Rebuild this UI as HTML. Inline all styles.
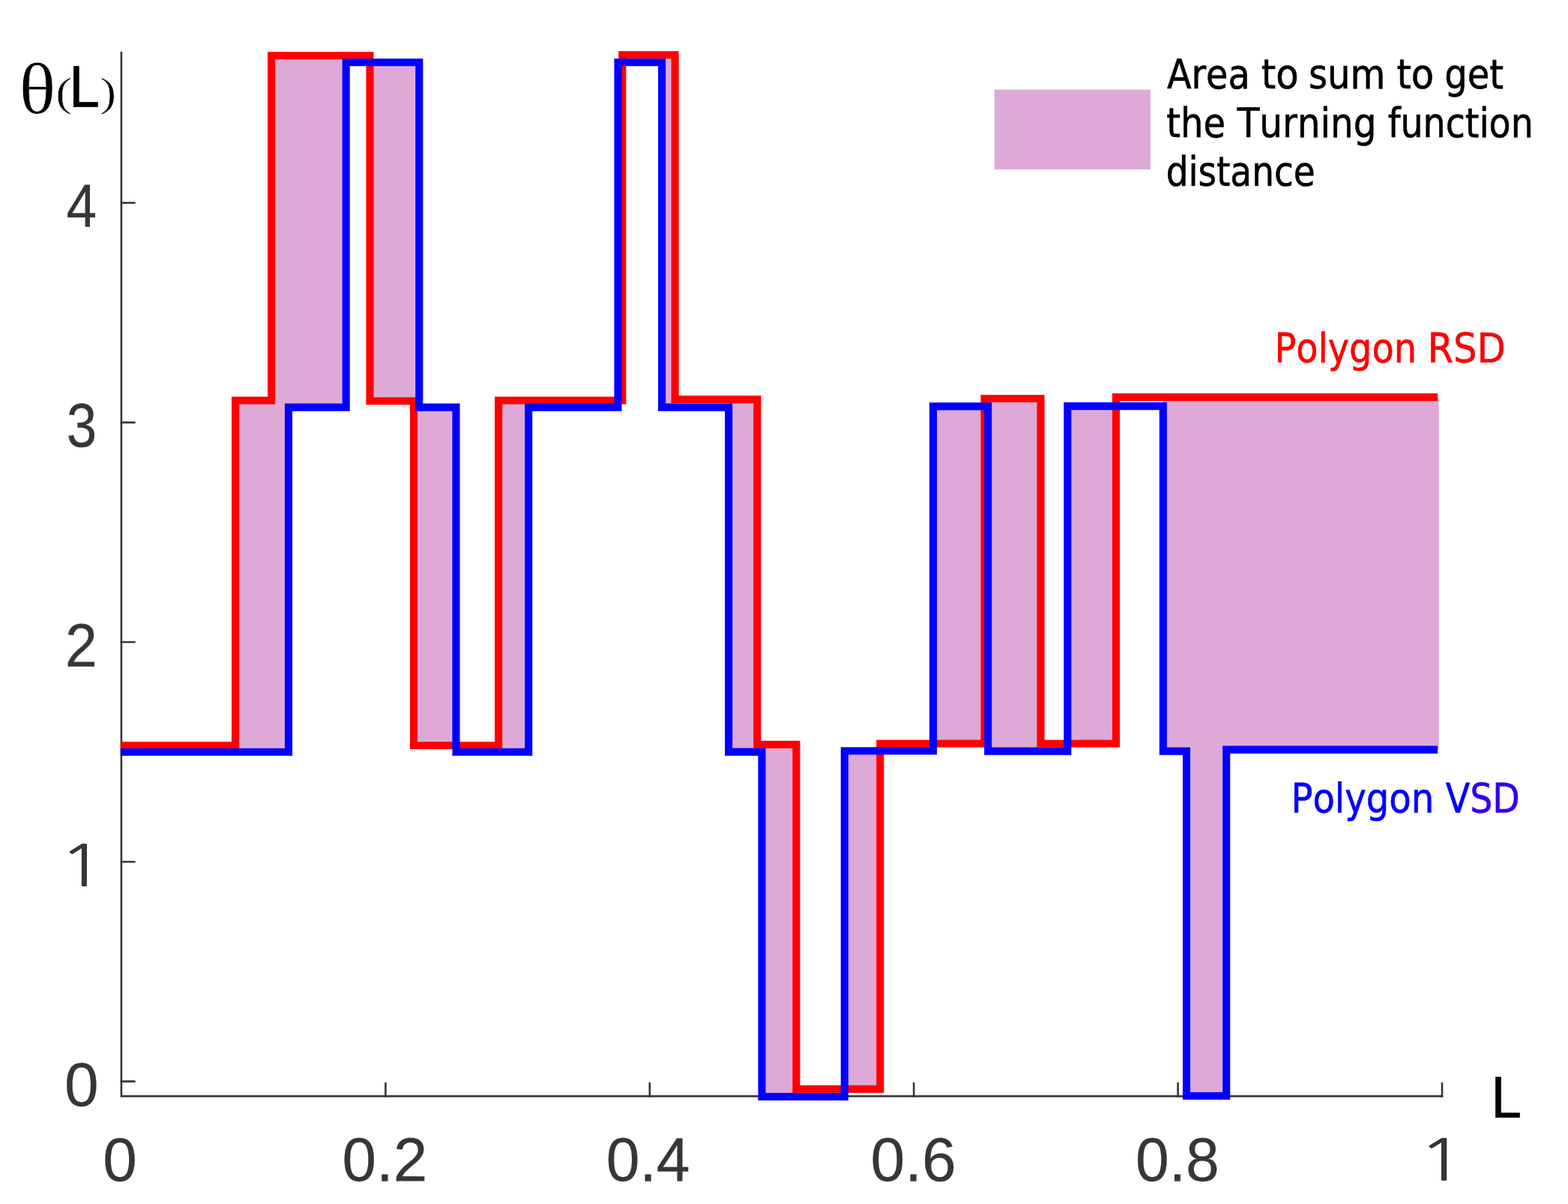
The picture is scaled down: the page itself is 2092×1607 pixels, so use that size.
<!DOCTYPE html>
<html lang="en">
<head>
<meta charset="utf-8">
<title>Turning function distance between polygon RSD and polygon VSD</title>
<style>
html,body{margin:0;padding:0;background:#ffffff;}
body{width:2092px;height:1607px;overflow:hidden;}
svg{display:block;}
text{white-space:pre;stroke-linejoin:miter;}
</style>
</head>
<body>
<svg width="2092" height="1607" viewBox="0 0 2092 1607" role="img">
<rect width="2092" height="1607" fill="#ffffff"/>
<g id="axes">
<path d="M161.9,68.7V1463.1H1925.3" fill="none" stroke="#363636" stroke-width="2.6" stroke-linejoin="miter"/>
<path d="M160.6,1443.40H180.6M160.6,1150.22H180.6M160.6,857.04H180.6M160.6,563.86H180.6M160.6,270.68H180.6M514.40,1464.4V1444.8M866.80,1464.4V1444.8M1219.20,1464.4V1444.8M1571.60,1464.4V1444.8M1924.00,1464.4V1444.8" fill="none" stroke="#363636" stroke-width="2.6"/>
</g>
<g id="area" fill="#dea9d7">
<path d="M314,534.5H362.1V1003.7H314ZM362.1,74.3H385V1003.7H362.1ZM385,74.3H461.7V543.6H385ZM493.5,83.2H552V535.2H493.5ZM552,83.2H559.3V995H552ZM559.3,543.6H608.5V995H559.3ZM665.1,534.5H705.2V1003.7H665.1ZM824.5,83.2H830.3V534.5H824.5ZM883.1,73.2H900.6V543.6H883.1ZM972.2,533.1H1010.3V1003.6H972.2ZM1016.5,993.7H1062.4V1463.8H1016.5ZM1126.8,1002.3H1174.3V1453.6H1126.8ZM1245,542.4H1313.5V992.5H1245ZM1318.2,532H1388.5V1002.6H1318.2ZM1424.3,542.1H1489V992.5H1424.3ZM1551.8,530.1H1583V1002.6H1551.8ZM1583,530.1H1636.2V1462.8H1583ZM1636.2,530.1H1919.6V1000.6H1636.2Z"/>
<rect x="1326.8" y="119.7" width="208.1" height="106.5"/>
</g>
<g id="curves" fill="none" stroke-width="10.1" stroke-linejoin="miter" stroke-linecap="butt">
<path id="curve-rsd" d="M160.8,995 L314,995 L314,534.5 L362.1,534.5 L362.1,74.3 L493.5,74.3 L493.5,535.2 L552,535.2 L552,995 L665.1,995 L665.1,534.5 L830.3,534.5 L830.3,73.2 L900.6,73.2 L900.6,533.1 L1010.3,533.1 L1010.3,993.7 L1062.4,993.7 L1062.4,1453.6 L1174.3,1453.6 L1174.3,992.5 L1313.5,992.5 L1313.5,532 L1388.5,532 L1388.5,992.5 L1489,992.5 L1489,530.1 L1918,530.1" stroke="#ff0000"/>
<path id="curve-vsd" d="M160.8,1003.7 L385,1003.7 L385,543.6 L461.7,543.6 L461.7,83.2 L559.3,83.2 L559.3,543.6 L608.5,543.6 L608.5,1003.7 L705.2,1003.7 L705.2,543.6 L824.5,543.6 L824.5,83.2 L883.1,83.2 L883.1,543.6 L972.2,543.6 L972.2,1003.6 L1016.5,1003.6 L1016.5,1463.8 L1126.8,1463.8 L1126.8,1002.3 L1245,1002.3 L1245,542.4 L1318.2,542.4 L1318.2,1002.6 L1424.3,1002.6 L1424.3,542.1 L1551.8,542.1 L1551.8,1002.6 L1583,1002.6 L1583,1462.8 L1636.2,1462.8 L1636.2,1000.6 L1918.1,1000.6" stroke="#0000ff"/>
</g>
<g id="labels">
<g id="y-title">
<text id="ytitle" transform="rotate(0.04 25.35 151.20)"><tspan x="25.35" y="151.20" textLength="49.13" lengthAdjust="spacingAndGlyphs" font-family="'Liberation Serif', serif" font-size="97.37" fill="#000000" stroke="#ffffff" stroke-width="0.7">θ</tspan><tspan x="74.14" y="141.37" textLength="21.80" lengthAdjust="spacingAndGlyphs" font-family="'Liberation Serif', serif" font-size="54.79" fill="#000000" stroke="#ffffff" stroke-width="0.5">(</tspan><tspan x="91.24" y="142.70" textLength="39.53" lengthAdjust="spacingAndGlyphs" font-family="'DejaVu Sans Condensed', 'DejaVu Sans', 'Liberation Sans', sans-serif" font-size="74.28" fill="#000000" stroke="#000000" stroke-width="0.6">L</tspan><tspan x="133.59" y="141.32" textLength="21.61" lengthAdjust="spacingAndGlyphs" font-family="'Liberation Serif', serif" font-size="54.84" fill="#000000" stroke="#ffffff" stroke-width="0.5">)</tspan></text>
</g>
<g id="x-title">
<text transform="rotate(0.04 1988.40 1491.45)" x="1988.40" y="1491.45" textLength="39.31" lengthAdjust="spacingAndGlyphs" font-family="'DejaVu Sans Condensed', 'DejaVu Sans', 'Liberation Sans', sans-serif" font-size="74.20" fill="#000000" stroke="#000000" stroke-width="0.6">L</text>
</g>
<g id="y-ticks">
<text transform="rotate(0.04 88.60 302.75)" x="88.60" y="302.75" textLength="40.55" lengthAdjust="spacingAndGlyphs" font-family="'Liberation Sans', sans-serif" font-size="81.51" fill="#363636" stroke="#363636" stroke-width="0.3">4</text>
<text transform="rotate(0.04 88.75 596.20)" x="88.75" y="596.20" textLength="40.35" lengthAdjust="spacingAndGlyphs" font-family="'Liberation Sans', sans-serif" font-size="82.58" fill="#363636" stroke="#363636" stroke-width="0.3">3</text>
<text transform="rotate(0.04 87.05 889.45)" x="87.05" y="889.45" textLength="42.78" lengthAdjust="spacingAndGlyphs" font-family="'Liberation Sans', sans-serif" font-size="81.85" fill="#363636" stroke="#363636" stroke-width="0.3">2</text>
<text transform="rotate(0.04 77.95 1182.85)" x="77.95" y="1182.85" textLength="62.26" lengthAdjust="spacingAndGlyphs" font-family="'NanumGothic', 'Liberation Sans', sans-serif" font-size="76.48" fill="#363636">1</text>
<text transform="rotate(0.04 86.00 1476.20)" x="86.00" y="1476.20" textLength="45.53" lengthAdjust="spacingAndGlyphs" font-family="'Liberation Sans', sans-serif" font-size="82.37" fill="#363636" stroke="#363636" stroke-width="0.3">0</text>
</g>
<g id="x-ticks">
<text transform="rotate(0.04 137.20 1576.20)" x="137.20" y="1576.20" textLength="45.54" lengthAdjust="spacingAndGlyphs" font-family="'Liberation Sans', sans-serif" font-size="82.16" fill="#363636" stroke="#363636" stroke-width="0.3">0</text>
<text transform="rotate(0.04 456.50 1576.20)" x="456.50" y="1576.20" textLength="113.73" lengthAdjust="spacingAndGlyphs" font-family="'Liberation Sans', sans-serif" font-size="82.51" fill="#363636" stroke="#363636" stroke-width="0.3">0.2</text>
<text transform="rotate(0.04 808.80 1576.20)" x="808.80" y="1576.20" textLength="111.62" lengthAdjust="spacingAndGlyphs" font-family="'Liberation Sans', sans-serif" font-size="82.51" fill="#363636" stroke="#363636" stroke-width="0.3">0.4</text>
<text transform="rotate(0.04 1161.50 1576.20)" x="1161.50" y="1576.20" textLength="114.27" lengthAdjust="spacingAndGlyphs" font-family="'Liberation Sans', sans-serif" font-size="82.51" fill="#363636" stroke="#363636" stroke-width="0.3">0.6</text>
<text transform="rotate(0.04 1515.00 1576.20)" x="1515.00" y="1576.20" textLength="111.74" lengthAdjust="spacingAndGlyphs" font-family="'Liberation Sans', sans-serif" font-size="82.31" fill="#363636" stroke="#363636" stroke-width="0.3">0.8</text>
<text transform="rotate(0.04 1891.40 1575.55)" x="1891.40" y="1575.55" textLength="63.57" lengthAdjust="spacingAndGlyphs" font-family="'NanumGothic', 'Liberation Sans', sans-serif" font-size="76.48" fill="#363636">1</text>
</g>
<g id="legend">
<text id="legend-line1" transform="rotate(0.04 1556.90 118.10)" font-family="'DejaVu Sans Condensed', 'DejaVu Sans', 'Liberation Sans', sans-serif" font-size="54.60" fill="#000000" stroke="#000000" stroke-width="0.6" style="font-kerning:none;"><tspan x="1556.90" y="118.10" textLength="110.77" lengthAdjust="spacingAndGlyphs">Area</tspan> <tspan x="1682.70" y="118.01" textLength="49.83" lengthAdjust="spacingAndGlyphs">to</tspan> <tspan x="1746.05" y="117.97" textLength="102.30" lengthAdjust="spacingAndGlyphs">sum</tspan> <tspan x="1863.40" y="117.89" textLength="49.83" lengthAdjust="spacingAndGlyphs">to</tspan> <tspan x="1927.30" y="117.84" textLength="78.84" lengthAdjust="spacingAndGlyphs">get</tspan></text>
<text id="legend-line2" transform="rotate(0.04 1556.20 183.10)" font-family="'DejaVu Sans Condensed', 'DejaVu Sans', 'Liberation Sans', sans-serif" font-size="54.60" fill="#000000" stroke="#000000" stroke-width="0.6" style="font-kerning:none;"><tspan x="1556.20" y="183.10" textLength="78.75" lengthAdjust="spacingAndGlyphs">the</tspan> <tspan x="1650.65" y="183.03" textLength="185.82" lengthAdjust="spacingAndGlyphs">Turning</tspan> <tspan x="1851.75" y="182.89" textLength="194.02" lengthAdjust="spacingAndGlyphs">function</tspan></text>
<text id="legend-line3" transform="rotate(0.04 1555.65 247.90)" font-family="'DejaVu Sans Condensed', 'DejaVu Sans', 'Liberation Sans', sans-serif" font-size="54.60" fill="#000000" stroke="#000000" stroke-width="0.6" style="font-kerning:none;"><tspan x="1555.65" y="247.90" textLength="198.98" lengthAdjust="spacingAndGlyphs">distance</tspan></text>
</g>
<g id="curve-labels">
<text id="label-rsd" transform="rotate(0.04 1700.40 483.60)" font-family="'DejaVu Sans Condensed', 'DejaVu Sans', 'Liberation Sans', sans-serif" font-size="54.60" fill="#ff0000" stroke="#ff0000" stroke-width="0.6" style="font-kerning:none;"><tspan x="1700.40" y="483.60" textLength="189.67" lengthAdjust="spacingAndGlyphs">Polygon</tspan> <tspan x="1904.40" y="483.46" textLength="104.27" lengthAdjust="spacingAndGlyphs">R<tspan fill="#f00c0c" stroke="#f00c0c">SD</tspan></tspan></text>
<text id="label-vsd" transform="rotate(0.04 1722.40 1084.40)" font-family="'DejaVu Sans Condensed', 'DejaVu Sans', 'Liberation Sans', sans-serif" font-size="54.60" fill="#0000ff" stroke="#0000ff" stroke-width="0.6" style="font-kerning:none;"><tspan x="1722.40" y="1084.40" textLength="190.77" lengthAdjust="spacingAndGlyphs">Polygon</tspan> <tspan x="1928.80" y="1084.26" textLength="98.97" lengthAdjust="spacingAndGlyphs">V<tspan fill="#3300f0" stroke="#3300f0">SD</tspan></tspan></text>
</g>
</g>
</svg>
</body>
</html>
